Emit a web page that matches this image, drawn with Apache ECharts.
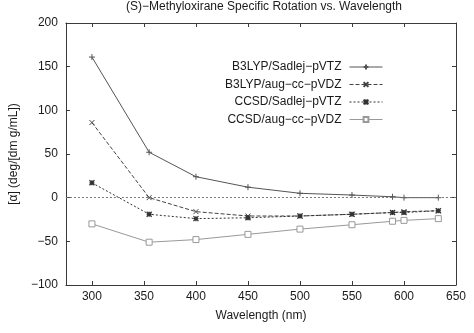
<!DOCTYPE html>
<html>
<head>
<meta charset="utf-8">
<script src="https://cdn.jsdelivr.net/npm/echarts@6/dist/echarts.min.js"></script>
<style>
  html, body { margin: 0; padding: 0; background: #fff; }
  #chart { width: 474px; height: 333px; }
</style>
</head>
<body>
<div id="chart"></div>
<script>
// Wavelengths (nm) at which the specific rotation was computed
const wavelengths = [300, 355, 400, 450, 500, 550, 589, 600, 633];

// Specific rotation [alpha] in deg/[dm g/mL]
const b3lypSadlej = [161, 52, 24, 12, 5, 3, 1, 0, 0];
const b3lypAug    = [86, 0, -16, -21, -21, -19, -17, -16, -15];
const ccsdSadlej  = [17, -19, -24, -23, -21, -19, -17, -17, -15];
const ccsdAug     = [-30, -51, -48, -42, -36, -31, -27, -26, -24];

// Tick labels
const xTicks = [300, 350, 400, 450, 500, 550, 600, 650];

const FONT = 'Liberation Sans, Arial, Helvetica, sans-serif';
const AXIS_COLOR = '#3a3a3a';
const TEXT_COLOR = '#1a1a1a';

// Stroke-only marker glyphs
const PLUS = 'path://M0,5L10,5M5,0L5,10';
const CROSS = 'path://M0,0L10,10M0,10L10,0';
const STAR = 'path://M0,5L10,5M5,0L5,10M0,0L10,10M0,10L10,0';
const BOX = 'path://M0,0L10,0L10,10L0,10Z';

function pairs(ys) {
  return wavelengths.map((x, i) => [x, ys[i]]);
}

function series(name, ys, opts) {
  return {
    name: name,
    type: 'line',
    data: pairs(ys),
    symbol: opts.symbol,
    symbolSize: opts.size,
    showAllSymbol: true,
    animation: false,
    lineStyle: { color: opts.color, width: 1, type: opts.lineType },
    itemStyle: {
      color: opts.fill || opts.color,
      borderColor: opts.color,
      borderWidth: opts.borderWidth || 1
    },
    emphasis: { disabled: true },
    z: opts.z || 2
  };
}

const chart = echarts.init(document.getElementById('chart'), null, { renderer: 'canvas' });

const plain = { show: false };

chart.setOption({
  backgroundColor: '#fff',
  animation: false,
  textStyle: { fontFamily: FONT },
  title: {
    text: '(S)\u2212Methyloxirane Specific Rotation vs. Wavelength',
    left: 259,
    textAlign: 'center',
    top: -4,
    textStyle: { fontFamily: FONT, fontSize: 12, fontWeight: 'normal', color: TEXT_COLOR }
  },
  legend: {
    orient: 'vertical',
    align: 'right',
    right: 86,
    top: 56,
    itemWidth: 33,
    itemHeight: 6,
    itemGap: 5.5,
    lineStyle: { width: 1 },
    textStyle: { fontFamily: FONT, fontSize: 12, color: TEXT_COLOR, padding: [0, 3, 0, 0] },
    selectedMode: false,
    data: ['B3LYP/Sadlej\u2212pVTZ', 'B3LYP/aug\u2212cc\u2212pVDZ', 'CCSD/Sadlej\u2212pVTZ', 'CCSD/aug\u2212cc\u2212pVDZ']
  },
  grid: { left: 61, right: 18, top: 23, bottom: 48 },
  xAxis: [
    {
      type: 'value',
      min: 275,
      max: 650,
      position: 'bottom',
      name: 'Wavelength (nm)',
      nameLocation: 'middle',
      nameGap: 25,
      nameTextStyle: { fontFamily: FONT, fontSize: 12, color: TEXT_COLOR },
      axisLine: { show: true, onZero: false, lineStyle: { color: AXIS_COLOR, width: 1 } },
      axisTick: { show: true, inside: true, length: 4, customValues: xTicks, lineStyle: { color: AXIS_COLOR } },
      axisLabel: { show: true, margin: 6, customValues: xTicks, fontFamily: FONT, fontSize: 12, color: TEXT_COLOR },
      splitLine: plain
    },
    {
      type: 'value',
      min: 275,
      max: 650,
      position: 'top',
      axisLine: { show: true, onZero: false, lineStyle: { color: AXIS_COLOR, width: 1 } },
      axisTick: { show: true, inside: true, length: 4, customValues: xTicks, lineStyle: { color: AXIS_COLOR } },
      axisLabel: plain,
      splitLine: plain
    }
  ],
  yAxis: [
    {
      type: 'value',
      min: -100,
      max: 200,
      interval: 50,
      position: 'left',
      name: '[\u03b1] (deg/[dm g/mL])',
      nameLocation: 'middle',
      nameGap: 39,
      nameTextStyle: { fontFamily: FONT, fontSize: 12, color: TEXT_COLOR },
      axisLine: { show: true, onZero: false, lineStyle: { color: AXIS_COLOR, width: 1 } },
      axisTick: { show: true, inside: true, length: 4, lineStyle: { color: AXIS_COLOR } },
      axisLabel: {
        show: true, margin: 8, fontFamily: FONT, fontSize: 12, color: TEXT_COLOR,
        formatter: v => (v < 0 ? '\u2212' + Math.abs(v) : String(v))
      },
      splitLine: plain
    },
    {
      type: 'value',
      min: -100,
      max: 200,
      interval: 50,
      position: 'right',
      axisLine: { show: true, onZero: false, lineStyle: { color: AXIS_COLOR, width: 1 } },
      axisTick: { show: true, inside: true, length: 4, lineStyle: { color: AXIS_COLOR } },
      axisLabel: plain,
      splitLine: plain
    }
  ],
  series: [
    Object.assign(series('B3LYP/Sadlej\u2212pVTZ', b3lypSadlej, {
      symbol: PLUS, size: 6, color: '#555555', lineType: 'solid'
    }), {
      // dotted zero reference line
      markLine: {
        silent: true,
        symbol: ['none', 'none'],
        label: { show: false },
        lineStyle: { color: '#777777', width: 1, type: [2, 2] },
        data: [{ yAxis: 0 }],
        animation: false
      }
    }),
    series('B3LYP/aug\u2212cc\u2212pVDZ', b3lypAug, {
      symbol: CROSS, size: 5, color: '#444444', lineType: [4, 2]
    }),
    series('CCSD/Sadlej\u2212pVTZ', ccsdSadlej, {
      symbol: STAR, size: 5, color: '#333333', lineType: [2, 2], borderWidth: 1.3
    }),
    series('CCSD/aug\u2212cc\u2212pVDZ', ccsdAug, {
      symbol: BOX, size: 6, color: '#999999', fill: '#ffffff', lineType: 'solid', z: 3
    })
  ]
});
</script>
</body>
</html>
